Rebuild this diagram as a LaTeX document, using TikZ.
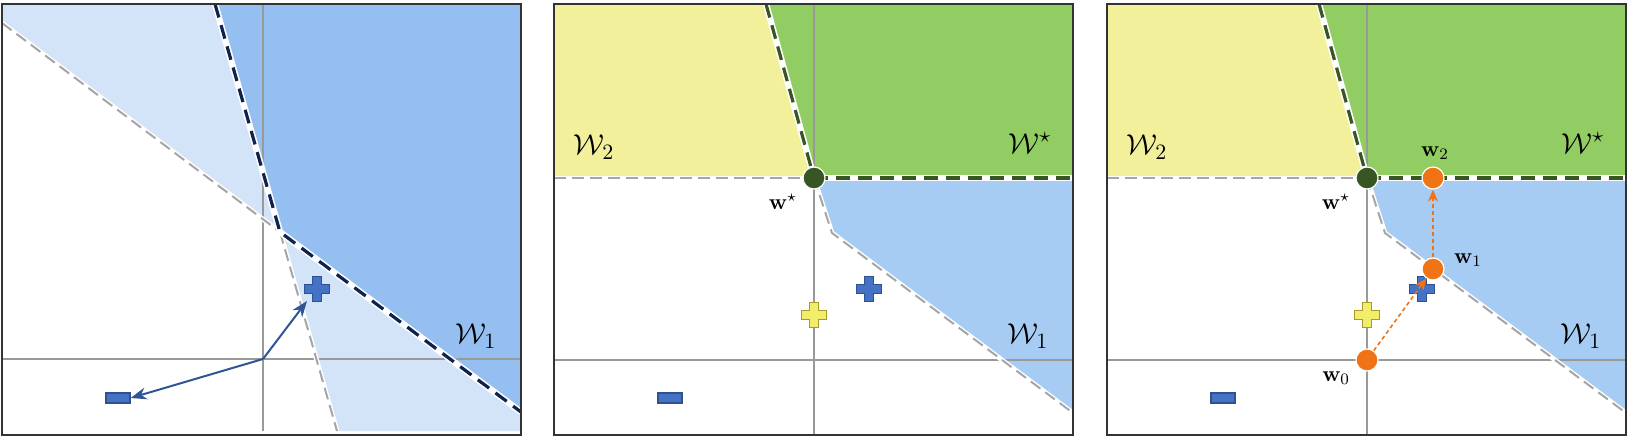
\documentclass[tikz,border=0pt]{standalone}
\usetikzlibrary{arrows.meta}
\definecolor{lb}{HTML}{D3E4F8}
\definecolor{db}{HTML}{94BFF0}
\definecolor{mb}{HTML}{A7CCF4}
\definecolor{gr}{HTML}{92CD63}
\definecolor{ye}{HTML}{F2F09A}
\definecolor{navy}{HTML}{10234F}
\definecolor{dg}{HTML}{375623}
\definecolor{ar}{HTML}{2F5597}
\definecolor{ptb}{HTML}{4472C4}
\definecolor{ptbd}{HTML}{2F528F}
\definecolor{pty}{HTML}{F2EE6A}
\definecolor{ptyd}{HTML}{A89B2A}
\definecolor{og}{HTML}{F07315}
\newcommand{\plusat}[3]{\fill[#2,draw=#3,line width=0.6pt] ($(#1)+(-4.5,-12.5)$) -- ++(9,0) -- ++(0,8) -- ++(8,0) -- ++(0,9) -- ++(-8,0) -- ++(0,8) -- ++(-9,0) -- ++(0,-8) -- ++(-8,0) -- ++(0,-9) -- ++(8,0) -- cycle;}
\usetikzlibrary{calc}
\tikzset{
 frame/.style={draw=black!80,line width=0.9pt},
 axis/.style={draw=black!40,line width=0.6pt},
 gdash/.style={draw=black!35,dashed,dash pattern=on 6pt off 3pt,line width=1pt,preaction={draw=white,solid,line width=2.4pt}},
 kdash/.style={dash pattern=on 7pt off 4pt,line width=1.6pt,preaction={draw=white,solid,line width=3.2pt}},
 lab/.style={font=\fontsize{15}{15}\selectfont},
 wlab/.style={font=\fontsize{11}{11}\selectfont},
 dot/.style={circle,fill=og,draw=white,line width=0.6pt,inner sep=0pt,minimum size=11pt},
 oarr/.style={draw=og,dashed,dash pattern=on 2pt off 1.5pt,line width=0.8pt,-{Stealth[length=6pt,width=5pt]}},
 barr/.style={draw=ar,line width=1pt,-{Stealth[length=8pt,width=6pt]}},
 minusbox/.style={fill=ptb,draw=ptbd,line width=0.6pt,minimum width=12pt,minimum height=5pt,inner sep=0pt}
}
\begin{document}
\begin{tikzpicture}[x=0.5pt,y=-0.5pt]
\useasboundingbox (0,0) rectangle (1631,440);
% ---------- panel 1
\begin{scope}[shift={(2,0)}]
\fill[lb] (0,4) -- (0,23) -- (278,232) -- (335,431) -- (519,431) -- (519,4) -- cycle;
\fill[db] (213,4) -- (278,232) -- (519,412) -- (519,4) -- cycle;
\draw[axis] (261,4) -- (261,431);
\draw[axis] (0,359) -- (519,359);
\coordinate (k1) at (278,232);
\draw[gdash] (0,23) -- (k1);
\draw[gdash] (k1) -- (335,431);
\draw[kdash,navy] (213,4) -- (k1) -- (519,412);
\coordinate (o1) at (261,359);
\plusat{315,289}{ptb}{ptbd}
\coordinate (p1) at (305,301);
\node[minusbox] (m1) at (116,398) {};
\draw[barr] (o1) -- (p1);
\draw[barr] (o1) -- (m1.east);
\node[lab] (W1a) at (474,336) {$\mathcal{W}_1$};
\draw[frame] (0,4) rectangle (519,435);
\end{scope}
% ---------- panels 2 and 3
\foreach \sx/\third in {554/0,1107/1}{
\begin{scope}[shift={(\sx,0)}]
\fill[ye] (0,4) -- (212,4) -- (260,178) -- (0,178) -- cycle;
\fill[gr] (212,4) -- (260,178) -- (519,178) -- (519,4) -- cycle;
\fill[mb] (260,178) -- (278,233) -- (519,413) -- (519,178) -- cycle;
\draw[axis] (260,4) -- (260,435);
\draw[axis] (0,360) -- (519,360);
\coordinate (ws) at (260,178);
\coordinate (k) at (278,233);
\draw[gdash] (0,178) -- (ws);
\draw[gdash] (ws) -- (k) -- (519,413);
\draw[kdash,dg] (212,4) -- (ws);
\draw[kdash,dg] (ws) -- (519,178);
\node[circle,fill=dg,draw=white,line width=0.6pt,inner sep=0pt,minimum size=11pt] (wsd) at (ws) {};
\node[wlab,anchor=east] (wsl) at (250,202) {$\mathbf{w}^{\star}$};
\plusat{260,315}{pty}{ptyd}
\plusat{315,289}{ptb}{ptbd}
\node[minusbox] (m) at (116,398) {};
\node[lab] (W2) at (40,147) {$\mathcal{W}_2$};
\node[lab] (Ws) at (476,143) {$\mathcal{W}^{\star}$};
\node[lab] (W1) at (474,336) {$\mathcal{W}_1$};
\ifnum\third=1
 \node[dot] (w0) at (260,360) {};
 \node[dot] (w1) at (326,269) {};
 \node[dot] (w2) at (326,178) {};
 \draw[oarr] (w0) -- (w1);
 \draw[oarr] (w1) -- (w2);
 \node[wlab,anchor=east] (w0l) at (250,378) {$\mathbf{w}_0$};
 \node[wlab,anchor=west] (w1l) at (340,260) {$\mathbf{w}_1$};
 \node[wlab] (w2l) at (328,153) {$\mathbf{w}_2$};
\fi
\draw[frame] (0,4) rectangle (519,435);
\end{scope}}
\end{tikzpicture}
\end{document}
